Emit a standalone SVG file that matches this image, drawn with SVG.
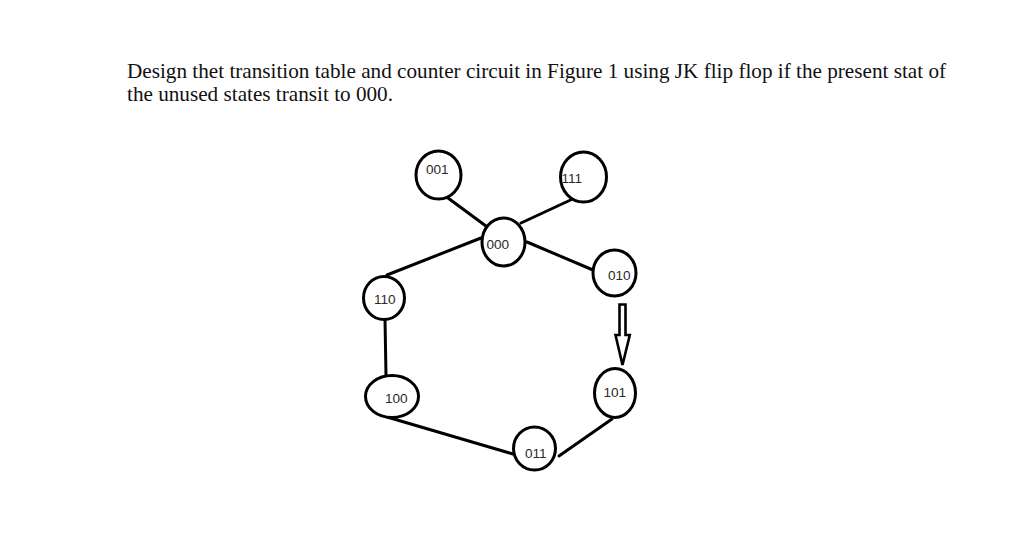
<svg xmlns="http://www.w3.org/2000/svg" width="1022" height="547" viewBox="0 0 1022 547">
<style>
.title{font-family:"Liberation Serif","Times New Roman",serif;font-size:21.2px;fill:#111}
.node ellipse{fill:#fff;stroke:#000;stroke-width:3}
.node text{font-family:"Liberation Sans",Arial,sans-serif;font-size:13.6px;fill:#2a2a2a}
.edges line{stroke:#000;stroke-width:3;stroke-linecap:round}
.edges polygon{fill:#fff;stroke:#000;stroke-width:2.6;stroke-linejoin:miter}
</style>
<rect width="1022" height="547" fill="#fff"/>
<text class="title" x="127" y="78">Design thet transition table and counter circuit in Figure 1 using JK flip flop if the present stat of</text>
<text class="title" x="127" y="101">the unused states transit to 000.</text>
<g class="edges" id="connectors">
<line x1="448" y1="198" x2="490" y2="229"/>
<line x1="577" y1="197" x2="521" y2="223"/>
<line x1="481" y1="238" x2="387" y2="275"/>
<line x1="527" y1="242" x2="593" y2="270"/>
<line x1="385" y1="319" x2="386" y2="376"/>
<line x1="387" y1="417" x2="513" y2="454"/>
<line x1="612" y1="419" x2="559" y2="456"/>
<polygon points="619.5,304.5 625.5,304.5 625.5,335 629.8,335 622.5,365 615.5,335 619.5,335"/>
</g>
<g class="node" id="n001"><ellipse cx="438.5" cy="175" rx="22.5" ry="24"/><text x="426" y="174">001</text></g>
<g class="node" id="n111"><ellipse cx="583.5" cy="177" rx="23" ry="25"/><text x="561.5" y="182.5">111</text></g>
<g class="node" id="n000"><ellipse cx="503.5" cy="242" rx="21.5" ry="24"/><text x="486.5" y="248.5">000</text></g>
<g class="node" id="n010"><ellipse cx="614.5" cy="273" rx="21.5" ry="23"/><text x="608" y="280">010</text></g>
<g class="node" id="n110"><ellipse cx="384" cy="298" rx="20.5" ry="21.5"/><text x="374" y="303.5">110</text></g>
<g class="node" id="n100"><ellipse cx="392" cy="396.5" rx="26.5" ry="21"/><text x="385" y="403">100</text></g>
<g class="node" id="n101"><ellipse cx="615" cy="393" rx="20.5" ry="24.5"/><text x="603.5" y="397">101</text></g>
<g class="node" id="n011"><ellipse cx="534.5" cy="448.5" rx="21" ry="21.5"/><text x="525" y="458">011</text></g>
</svg>
